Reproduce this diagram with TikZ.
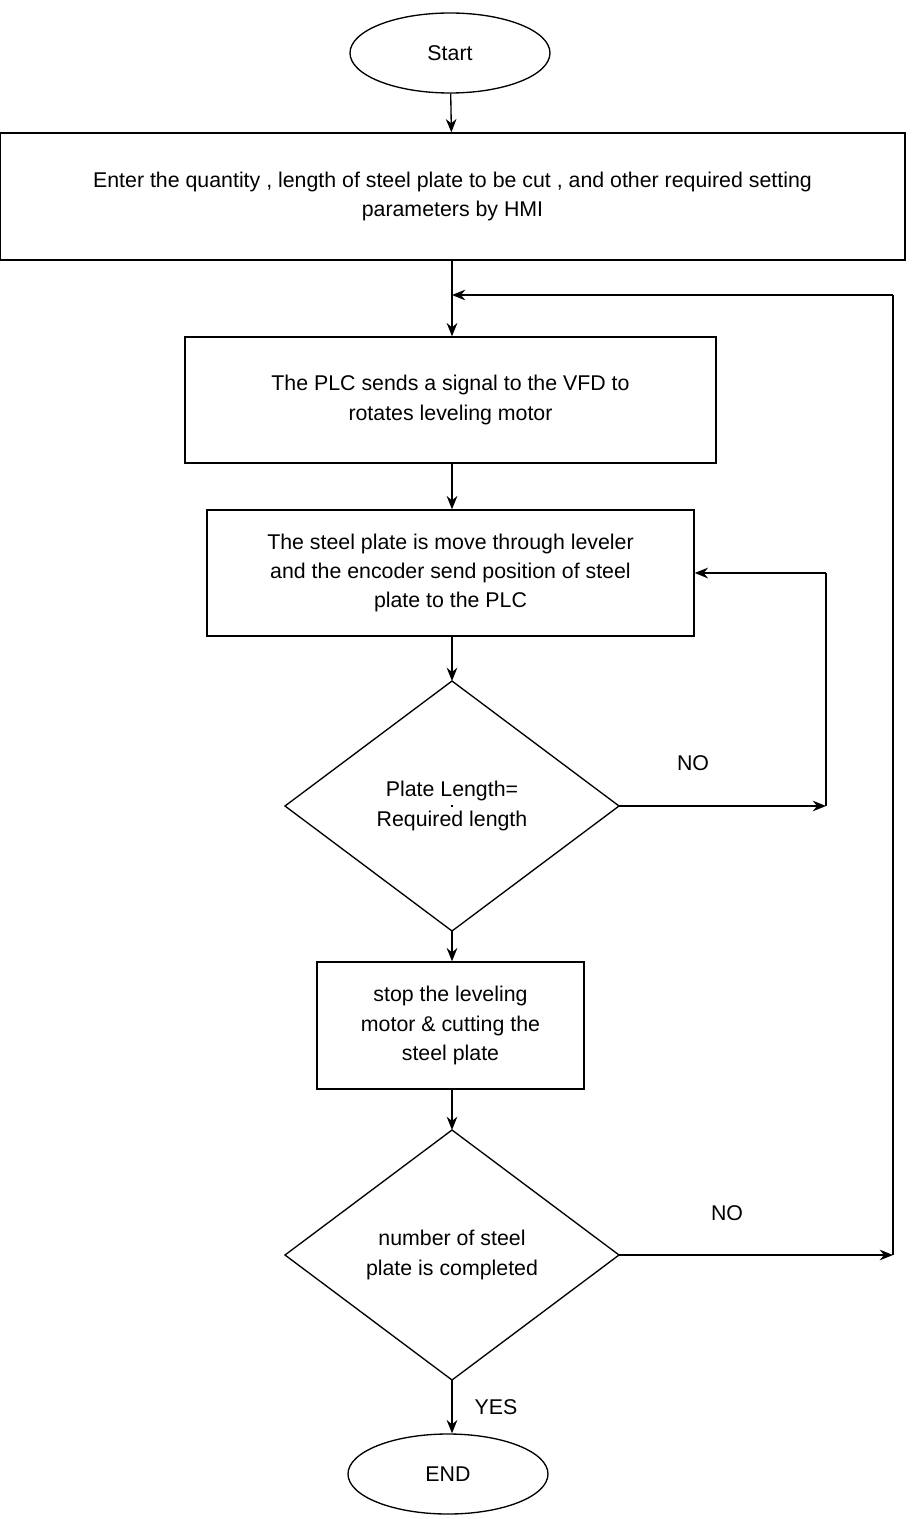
\documentclass[tikz,border=0pt]{standalone}
\usepackage{fontspec}
\setmainfont{Liberation Sans}
\usetikzlibrary{shapes.geometric,arrows.meta}
\begin{document}
\begin{tikzpicture}[x=0.75pt,y=-0.75pt,
  every node/.style={font=\fontsize{16}{22}\selectfont, align=center},
  box/.style={draw, line width=1pt, inner sep=0pt},
  term/.style={draw, ellipse, line width=1pt, minimum width=150pt, minimum height=60pt, inner sep=0pt},
  dia/.style={draw, diamond, line width=1pt, minimum width=250.5pt, minimum height=187.5pt, inner sep=0pt, aspect=1.336},
  arr/.style={-{Stealth[length=10pt,width=8pt]}, line width=1pt},
  ln/.style={line width=1pt}]
\useasboundingbox (0,0) rectangle (922,1519);
\node[term] (start) at (450,53) {Start};
\node[box, minimum width=678.75pt, minimum height=95.25pt] (b1) at (452.5,196.5)
  {Enter the quantity , length of steel plate to be cut , and other required setting\\parameters by HMI};
\node[box, minimum width=398.25pt, minimum height=94.5pt] (b2) at (450.5,400)
  {The PLC sends a signal to the VFD to\\rotates leveling motor};
\node[box, minimum width=365.25pt, minimum height=94.5pt] (b3) at (450.5,573)
  {The steel plate is move through leveler\\and the encoder send position of steel\\plate to the PLC};
\node[draw, line width=1pt, inner sep=0pt, minimum size=1pt] (d1) at (452,806) {};
\draw[ln] (452,681) -- (619,806) -- (452,931) -- (285,806) -- cycle;
\node at (452,806) {Plate Length=\\Required length};
\node[box, minimum width=200.25pt, minimum height=95.25pt] (b4) at (450.5,1025.5)
  {stop the leveling\\motor \& cutting the\\steel plate};
\draw[ln] (452,1130) -- (619,1255) -- (452,1380) -- (285,1255) -- cycle;
\node (d2) at (452,1255) {number of steel\\plate is completed};
\node[term] (end) at (448,1474) {END};
\coordinate (d1t) at (452,681); \coordinate (d1b) at (452,931); \coordinate (d1r) at (619,806);
\coordinate (d2t) at (452,1130); \coordinate (d2b) at (452,1380); \coordinate (d2r) at (619,1255);
\coordinate (c1) at (826,806); \coordinate (c2) at (826,573);
\coordinate (e1) at (893,1255); \coordinate (e2) at (893,295); \coordinate (m) at (452,295);
\draw[arr] (start) -- (b1);
\draw[arr] (b1.south -| m) -- (b2.north -| m);
\draw[arr] (b2.south -| m) -- (b3.north -| m);
\draw[arr] (b3.south -| m) -- (d1t);
\draw[arr] (d1r) -- (c1);
\draw[ln] (c1) -- (c2);
\draw[arr] (c2) -- (b3.east);
\draw[arr] (d1b) -- (b4.north -| m);
\draw[arr] (b4.south -| m) -- (d2t);
\draw[arr] (d2r) -- (e1);
\draw[ln] (e1) -- (e2);
\draw[arr] (e2) -- (m);
\draw[arr] (d2b) -- (end.north -| d2b);
\node at (693,763) {NO};
\node at (727,1213) {NO};
\node at (496,1407) {YES};
\end{tikzpicture}
\end{document}
